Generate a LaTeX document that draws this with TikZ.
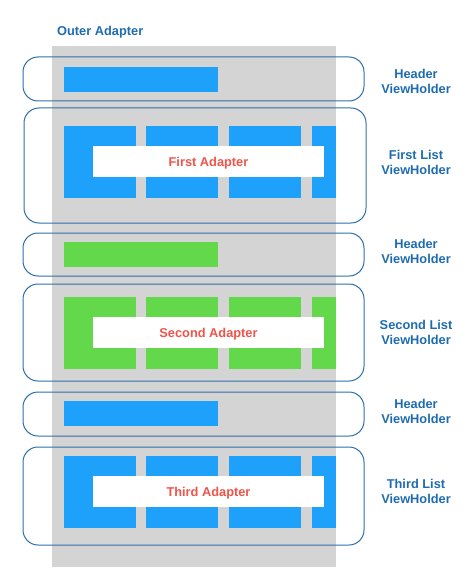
\documentclass[tikz,border=0pt]{standalone}
\usepackage{fontspec}
\setmainfont{Liberation Sans}
\usepackage{xcolor}
\usepackage{tikz}
\usetikzlibrary{positioning}

\definecolor{cellblue}{RGB}{29,161,250}
\definecolor{cellgreen}{RGB}{98,216,74}
\definecolor{colgray}{RGB}{212,212,212}
\definecolor{vhline}{RGB}{45,110,170}
\definecolor{vhtext}{RGB}{30,108,176}
\definecolor{adtext}{RGB}{240,84,74}

\tikzset{
  vhbox/.style={draw=vhline,line width=1pt,rounded corners=15pt},
  adapterbar/.style={fill=white,inner sep=0pt,minimum width=231pt,minimum height=31pt,
    text height=9pt,text depth=0pt,
    text=adtext,font=\fontsize{12.8}{15}\selectfont\bfseries},
  vhlabel/.style={text=vhtext,align=center,inner sep=0pt,
    font=\fontsize{12.8}{15}\selectfont\bfseries}
}

\begin{document}
\begin{tikzpicture}[x=1pt,y=-1pt]
\useasboundingbox (0,0) rectangle (474,580);
% outer adapter column
\fill[colgray] (52,46) rectangle (336,567);
\node[vhlabel,anchor=base west] (outer) at (57,35.5) {Outer Adapter};

% header rows
\foreach \y/\c in {67/cellblue,242/cellgreen,401/cellblue}
  \fill[\c] (64,\y) rectangle ++(154,25);
\draw[vhbox] (23,57) rectangle (364,101);
\draw[vhbox] (23,233) rectangle (364,276);
\draw[vhbox] (23,392) rectangle (364,436);

% list rows
\foreach \y/\c in {126/cellblue,297/cellgreen,456/cellblue} {
  \foreach \x in {64,146,229}
    \fill[\c] (\x,\y) rectangle ++(72,72);
  \fill[\c] (312,\y) rectangle ++(24,72);
}
\draw[vhbox] (24,108) rectangle (366,223);
\draw[vhbox] (23,284) rectangle (364,381);
\draw[vhbox] (23,447) rectangle (364,545);

\node[adapterbar] (firstad) at (208.5,161.5) {First Adapter};
\node[adapterbar] (secondad) at (208.5,332.5) {Second Adapter};
\node[adapterbar] (thirdad) at (208.5,491.5) {Third Adapter};

% labels on the right
\node[vhlabel] (hdr1) at (416,81.5) {Header\\ViewHolder};
\node[vhlabel] (list1) at (416,162.5) {First List\\ViewHolder};
\node[vhlabel] (hdr2) at (416,251.5) {Header\\ViewHolder};
\node[vhlabel] (list2) at (416,332.5) {Second List\\ViewHolder};
\node[vhlabel] (hdr3) at (416,411.5) {Header\\ViewHolder};
\node[vhlabel] (list3) at (416,491.5) {Third List\\ViewHolder};
\end{tikzpicture}
\end{document}
